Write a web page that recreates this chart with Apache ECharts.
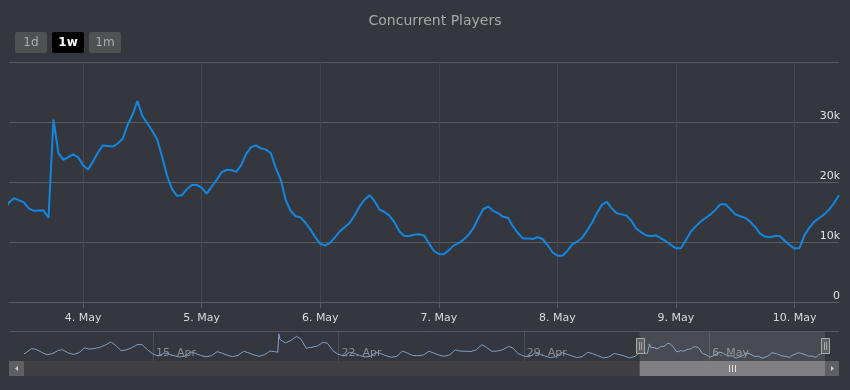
<!DOCTYPE html>
<html>
<head>
<meta charset="utf-8">
<script src="https://cdn.jsdelivr.net/npm/echarts@6/dist/echarts.min.js"></script>
<style>html,body{margin:0;padding:0;background:#34373e;}#c{width:850px;height:390px;}</style>
</head>
<body>
<div id="c"></div>
<script>
// ---- data (values in thousands of concurrent players) ----
// earlier data shown only in the navigator: "month/day hour"
const earlyTimes = [
 '4/10 3','4/10 5','4/10 10','4/10 14','4/10 19',
 '4/11 0','4/11 5','4/11 10','4/11 14','4/11 19',
 '4/12 0','4/12 5','4/12 10','4/12 14','4/12 19',
 '4/13 0','4/13 5','4/13 10','4/13 14','4/13 19',
 '4/14 0','4/14 5','4/14 10','4/14 14','4/14 19',
 '4/15 0','4/15 5','4/15 10','4/15 14','4/15 19',
 '4/16 0','4/16 5','4/16 10','4/16 14','4/16 19',
 '4/17 0','4/17 5','4/17 10','4/17 14','4/17 19',
 '4/18 0','4/18 5','4/18 10','4/18 14','4/18 19',
 '4/19 0','4/19 5','4/19 10','4/19 14','4/19 17','4/19 18','4/19 19','4/19 21',
 '4/20 0','4/20 5','4/20 10','4/20 14','4/20 19','4/20 21',
 '4/21 0','4/21 5','4/21 10','4/21 14','4/21 19','4/21 23',
 '4/22 5','4/22 10','4/22 14','4/22 19',
 '4/23 0','4/23 5','4/23 10','4/23 14','4/23 19',
 '4/24 0','4/24 5','4/24 10','4/24 14','4/24 19',
 '4/25 0','4/25 5','4/25 10','4/25 14','4/25 19',
 '4/26 0','4/26 5','4/26 10','4/26 14','4/26 19','4/26 22',
 '4/27 0','4/27 5','4/27 10','4/27 14','4/27 19',
 '4/28 0','4/28 5','4/28 10','4/28 14','4/28 19','4/28 22',
 '4/29 0','4/29 5','4/29 10','4/29 14','4/29 19',
 '4/30 0','4/30 5','4/30 10','4/30 14','4/30 19',
 '5/1 0','5/1 5','5/1 10','5/1 14','5/1 19',
 '5/2 0','5/2 5','5/2 10','5/2 14','5/2 19',
 '5/3 0','5/3 5'
];
const earlyValues = [
 14.5,16.5,23.0,21.5,17.0,
 13.0,15.0,20.0,21.0,16.0,
 13.5,16.5,24.0,22.0,23.0,
 25.0,29.0,33.5,28.0,19.7,
 21.0,24.5,29.5,29.0,21.0,
 14.0,11.0,16.0,14.0,11.5,
 9.5,11.0,17.5,15.5,12.0,
 9.8,11.5,18.0,16.0,12.5,
 10.0,12.0,18.5,16.5,13.0,
 10.5,13.0,19.0,18.0,17.0,46.5,37.5,35.0,
 32.0,36.0,42.5,38.0,23.0,24.5,
 25.0,27.0,33.0,31.5,19.5,14.5,
 11.0,17.0,15.5,12.0,
 9.5,10.5,17.0,15.0,11.5,
 9.0,10.5,19.0,16.0,12.0,
 11.5,12.5,18.5,16.0,12.5,
 10.5,13.0,21.0,19.0,18.5,18.5,
 18.0,21.0,29.0,25.0,18.5,
 19.0,21.0,26.5,24.0,14.5,12.5,
 11.0,9.5,16.0,14.5,11.0,
 8.5,10.0,16.5,14.5,11.5,
 8.5,10.0,17.0,15.0,11.5,
 8.0,9.5,15.0,13.5,11.0,
 8.0,10.5
];
// main one-week window: hours relative to 4 May 00:00
const mainHours = [
 -15,-14,-12,-11,-10,-8,-7,-6,-5,-4,-2,-1,
 0,1,2,3,4,6,7,8,9,10,11,12,13,14,15,16,17,18,19,20,21,22,23,
 24,25,26,27,28,29,30,31,32,33,34,35,36,37,38,39,40,41,42,43,44,45,46,47,
 48,49,50,51,52,53,54,55,56,57,58,59,60,61,62,63,64,65,66,67,68,69,70,71,
 72,73,74,75,76,77,78,79,80,81,82,83,84,85,86,87,88,89,90,91,92,93,94,95,
 96,97,98,99,100,101,102,103,104,105,106,107,108,109,110,111,112,113,114,115,116,117,118,119,
 120,121,122,123,124,125,126,127,128,129,130,131,132,133,134,135,136,137,138,139,140,141,142,143,
 144,145,146,147,148,149,150,151,152,153
];
const mainValues = [
 16.6,17.3,16.6,15.6,15.2,15.3,14.0,30.4,24.8,23.7,24.6,24.1,
 22.8,22.1,23.4,24.9,26.1,25.9,26.4,27.2,29.5,31.2,33.5,31.0,29.8,28.5,27.1,24.2,21.0,18.8,17.7,17.8,18.8,19.5,19.5,
 19.05,18.05,19.2,20.3,21.6,22.0,22.0,21.7,22.8,24.7,25.8,26.1,25.6,25.4,24.8,22.3,20.4,17.0,15.2,14.3,14.1,13.2,12.1,10.8,
 9.7,9.4,9.9,10.8,11.8,12.5,13.2,14.5,16.0,17.1,17.8,16.8,15.4,15.0,14.4,13.3,11.8,11.0,11.0,11.2,11.3,11.1,9.8,8.5,
 8.0,7.95,8.6,9.4,9.8,10.4,11.2,12.3,14.0,15.5,15.9,15.2,14.8,14.2,14.05,12.6,11.5,10.6,10.6,10.5,10.8,10.5,9.5,8.3,
 7.7,7.7,8.5,9.6,10.05,10.7,11.9,13.2,14.8,16.2,16.7,15.6,14.8,14.6,14.4,13.5,12.2,11.6,11.1,11.0,11.1,10.6,10.1,9.5,
 8.95,8.95,10.3,11.7,12.6,13.4,14.0,14.6,15.4,16.3,16.3,15.5,14.6,14.3,14.05,13.4,12.55,11.4,10.9,10.8,11.0,11.0,10.2,9.5,
 8.9,9.0,11.1,12.4,13.4,14.0,14.6,15.4,16.5,17.8
];
const mainTickHours = [0,24,48,72,96,120,144];
const navTickHours = [-456,-288,-120,48];
const yTicks = [0,10,20,30,40];
const rangeButtons = ['1d','1w','1m'];
const activeButton = '1w';
const titleText = 'Concurrent Players';

// ---- build ----
function toHours(s){
  const [md, hh] = s.split(' ');
  const [m, d] = md.split('/').map(Number);
  const days = m === 4 ? d - 34 : d - 4;
  return days * 24 + Number(hh);
}
const fullData = earlyTimes.map((t,i)=>[toHours(t), earlyValues[i]])
  .concat(mainHours.map((h,i)=>[h, mainValues[i]]));
const navMin = fullData[0][0], navMax = fullData[fullData.length-1][0];
const winStart = mainHours[0], winEnd = mainHours[mainHours.length-1];
const MONTHS = ['Jan','Feb','Mar','Apr','May','Jun','Jul','Aug','Sep','Oct','Nov','Dec'];
function fmtDate(h){
  const d = new Date(Date.UTC(2019,4,4) + Math.round(h)*3600000);
  return d.getUTCDate() + '. ' + MONTHS[d.getUTCMonth()];
}
const FONT = 'DejaVu Sans';
const BG = '#34373e';

const chart = echarts.init(document.getElementById('c'), null, {renderer:'canvas', width:850, height:390});

const option = {
  backgroundColor: BG,
  animation: false,
  title: {text: titleText, left: 430, top: 9, textAlign: 'center',
    textStyle: {color:'#a8a8a8', fontSize: 14, fontWeight: 'normal', fontFamily: FONT}},
  grid: [
    {left: 9, right: 11, top: 62, height: 240},
    {left: 24, right: 25, top: 331, height: 30}
  ],
  xAxis: [
    {type:'value', gridIndex:0, min: winStart, max: winEnd,
     axisLine:{show:true, lineStyle:{color:'#5b5e65'}},
     axisTick:{show:true, customValues: mainTickHours, length:6, lineStyle:{color:'#5b5e65'}},
     axisLabel:{customValues: mainTickHours, formatter: fmtDate, color:'#dadadc', fontSize:11, fontFamily:FONT, margin:11},
     splitLine:{show:true, lineStyle:{color:'#42464d'}}},
    {type:'value', gridIndex:1, min: navMin, max: navMax,
     axisLine:{show:false},
     axisTick:{show:false, customValues: navTickHours},
     axisLabel:{customValues: navTickHours, formatter: fmtDate, inside:true, align:'left', margin:2,
       padding:[0,0,0,3], color:'#8c8c8e', fontSize:11, fontFamily:FONT},
     splitLine:{show:true, lineStyle:{color:'#4a4e55'}}}
  ],
  yAxis: [
    {type:'value', gridIndex:0, min: yTicks[0], max: yTicks[yTicks.length-1], interval: yTicks[1]-yTicks[0],
     position:'right',
     axisLine:{show:false}, axisTick:{show:false},
     axisLabel:{inside:true, showMaxLabel:false, formatter: v => v === 0 ? '0' : v + 'k',
       color:'#e0e0e2', fontSize:11, fontFamily:FONT, verticalAlign:'bottom', margin:-1, padding:[0,0,0,0]},
     splitLine:{show:true, lineStyle:{color:'#585b62'}}},
    {type:'value', gridIndex:1, min:3, max:51, show:false}
  ],
  series: [
    {type:'line', xAxisIndex:0, yAxisIndex:0, data: fullData, showSymbol:false, silent:true, clip:true,
     lineStyle:{color:'#1387e0', width:2}, itemStyle:{color:'#1387e0'}, z:3},
    {type:'line', xAxisIndex:1, yAxisIndex:1, data: fullData, showSymbol:false, silent:true,
     lineStyle:{color:'#7d9fc8', width:1}, itemStyle:{color:'#7d9fc8'}, z:2}
  ]
};
chart.setOption(option);

// decorations: range selector buttons, navigator mask/handles, scrollbar
const g = [];
rangeButtons.forEach((b, i) => {
  const x = 15 + i * 37;
  const active = b === activeButton;
  g.push({type:'rect', shape:{x:x, y:32, width:32, height:21, r:2}, style:{fill: active ? '#000000' : '#505153'}, z:10});
  g.push({type:'text', x: x + 16, y: 43, style:{text:b, fill: active ? '#ffffff' : '#ababab',
    font: (active ? 'bold ' : '') + '12px "' + FONT + '"', align:'center', verticalAlign:'middle'}, z:11});
});
g.push({type:'line', shape:{x1:10, y1:331.5, x2:839, y2:331.5}, style:{stroke:'#55585f', lineWidth:1}, z:1});
const tx0 = chart.convertToPixel({xAxisIndex:1}, winStart);
const tx1 = chart.convertToPixel({xAxisIndex:1}, winEnd);
// selected-range mask
g.push({type:'rect', shape:{x:tx0, y:332, width:tx1 - tx0, height:29}, style:{fill:'rgba(255,255,255,0.1)'}, z:20});
// handles
[tx0, tx1].forEach(hx => {
  const x = Math.round(hx) - 4;
  g.push({type:'rect', shape:{x:x + 0.5, y:338.5, width:8, height:15}, style:{fill:'#5e6066', stroke:'#a8a8a8', lineWidth:1}, z:21});
  g.push({type:'line', shape:{x1:x + 3.5, y1:342, x2:x + 3.5, y2:350}, style:{stroke:'#a8a8a8', lineWidth:1}, z:22});
  g.push({type:'line', shape:{x1:x + 5.5, y1:342, x2:x + 5.5, y2:350}, style:{stroke:'#a8a8a8', lineWidth:1}, z:22});
});
// scrollbar
g.push({type:'rect', shape:{x:9, y:361, width:830, height:15}, style:{fill:'#404043'}, z:10});
g.push({type:'rect', shape:{x:9, y:361, width:15, height:15}, style:{fill:'#606063'}, z:11});
g.push({type:'polygon', shape:{points:[[18,366],[18,371],[15,368.5]]}, style:{fill:'#cccccc'}, z:12});
g.push({type:'rect', shape:{x:825, y:361, width:14, height:15}, style:{fill:'#606063'}, z:11});
g.push({type:'polygon', shape:{points:[[831,366],[831,371],[834,368.5]]}, style:{fill:'#cccccc'}, z:12});
g.push({type:'rect', shape:{x:tx0, y:361, width:tx1 - tx0, height:15}, style:{fill:'#808083'}, z:11});
const cx = Math.round((tx0 + tx1) / 2);
[-3,0,3].forEach(d => g.push({type:'line', shape:{x1:cx+d+0.5, y1:365, x2:cx+d+0.5, y2:372}, style:{stroke:'#e0e0e0', lineWidth:1}, z:12}));
chart.setOption({graphic: g});
</script>
</body>
</html>
